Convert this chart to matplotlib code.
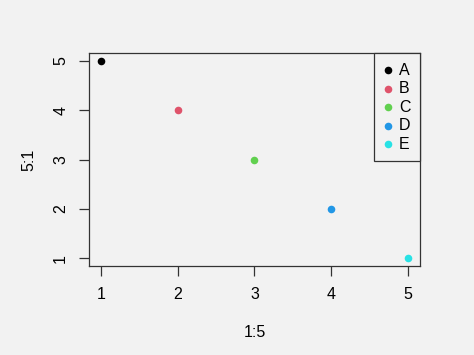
import matplotlib
matplotlib.use("Agg")
from matplotlib import pyplot as plt

x_vals = [1, 2, 3, 4, 5]
y_vals = [5, 4, 3, 2, 1]
labels = ["A", "B", "C", "D", "E"]
colors = ["#000000", "#DF536B", "#61D04F", "#2297E6", "#28E2E5"]

plt.rcParams['font.family'] = ['Liberation Sans', 'DejaVu Sans']

bg = "#f2f2f2"
fig = plt.figure(figsize=(4.74, 3.55), dpi=100, facecolor=bg)
ax = fig.add_axes([0.1878, 0.2507, 0.6982, 0.6])
ax.set_facecolor(bg)

for x, y, lab, c in zip(x_vals, y_vals, labels, colors):
    ax.scatter(x, y, s=30, color=c, label=lab, linewidths=0, zorder=3)

ax.set_xlim(0.84, 5.16)
ax.set_ylim(0.84, 5.16)
ax.set_xticks(x_vals)
ax.set_yticks([1, 2, 3, 4, 5])
ax.tick_params(direction="out", length=7, width=0.9, color="#333333", labelsize=11.5, pad=8)
for lab in ax.get_yticklabels():
    lab.set_rotation(90)
    lab.set_va("center")
for sp in ax.spines.values():
    sp.set_color("#333333")
    sp.set_linewidth(0.9)

ax.set_xlabel("1:5", fontsize=11.5, labelpad=17)
ax.set_ylabel("5:1", fontsize=11.5, labelpad=12)

leg = ax.legend(loc="upper right", borderaxespad=0, fancybox=False, framealpha=1,
                edgecolor="#333333", facecolor=bg, fontsize=11.5, handletextpad=0.35,
                handlelength=0.6, labelspacing=0.22, borderpad=0.6, scatterpoints=1)
leg.get_frame().set_linewidth(0.9)

fig.savefig("out.png", dpi=100, facecolor=bg)
